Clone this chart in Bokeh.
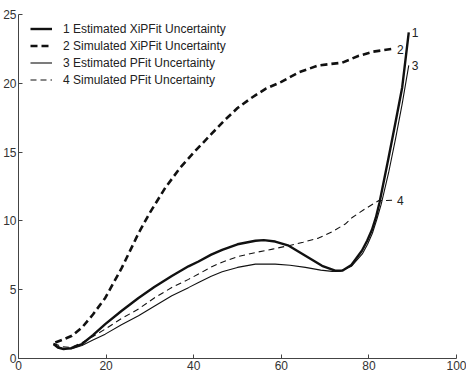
from bokeh.plotting import figure
from bokeh.models import Range1d, Legend, LegendItem, FixedTicker
from bokeh.embed import file_html
from bokeh.resources import INLINE
from bokeh.core.properties import value

# ---- data ----
x1 = [8, 9, 10.3, 12, 14.5, 17, 19.8, 23.5, 27.4, 31, 35, 38.8, 41.1, 44, 46.5, 50, 54.1, 56, 58.6, 61.7, 65.5, 69.3, 72.3, 74, 76, 78.4, 79.6, 80.7, 81.6, 82.4, 84.5, 86.1, 87.6, 89.1]
y1 = [1.05, 0.8, 0.68, 0.75, 1.05, 1.7, 2.5, 3.45, 4.4, 5.2, 6.0, 6.7, 7.05, 7.55, 7.9, 8.3, 8.56, 8.6, 8.5, 8.2, 7.47, 6.74, 6.38, 6.4, 6.8, 7.83, 8.56, 9.35, 10.25, 11.3, 14.6, 17.2, 19.7, 23.7]

x2 = [8.4, 10, 12.2, 14.5, 17, 19.8, 23.6, 27.4, 30, 33.5, 37, 40.4, 44, 47, 50, 53, 56.4, 60, 64, 68.5, 73.9, 77.7, 81, 85.3]
y2 = [1.16, 1.35, 1.65, 2.25, 3.2, 4.4, 6.6, 9.1, 10.6, 12.4, 13.9, 15.1, 16.3, 17.3, 18.2, 18.9, 19.6, 20.1, 20.8, 21.3, 21.5, 22.0, 22.3, 22.5]

x3 = [8, 10, 12, 14.5, 17, 19.8, 23.5, 27.4, 31, 35, 38.8, 41.1, 44, 46.5, 50, 54.1, 58.6, 62, 65.5, 69, 71.6, 73.5, 76, 78.5, 79.7, 80.8, 81.8, 82.8, 84.5, 86.1, 87.6, 89.1]
y3 = [1.0, 0.75, 0.7, 0.95, 1.35, 1.77, 2.45, 3.1, 3.8, 4.56, 5.15, 5.53, 5.98, 6.3, 6.62, 6.86, 6.86, 6.78, 6.62, 6.42, 6.33, 6.35, 6.7, 7.6, 8.3, 9.1, 10.1, 11.2, 13.5, 16.0, 18.5, 21.3]

x4 = [8, 10, 12, 14.5, 17, 19.8, 23.5, 27.4, 31, 35, 38.8, 41.1, 44, 46.5, 50, 54.1, 58, 61.7, 65, 68.5, 71.5, 74.6, 76.2, 79, 82.2, 85.3]
y4 = [1.1, 0.85, 0.8, 1.15, 1.6, 2.14, 2.9, 3.6, 4.4, 5.16, 5.75, 6.14, 6.65, 7.0, 7.4, 7.7, 7.95, 8.2, 8.45, 8.75, 9.2, 9.77, 10.25, 10.85, 11.47, 11.5]

names = ["1 Estimated XiPFit Uncertainty", "2 Simulated XiPFit Uncertainty",
         "3 Estimated PFit Uncertainty", "4 Simulated PFit Uncertainty"]
end_tags = ["1", "2", "3", "4"]

x_ticks = [0, 20, 40, 60, 80, 100]
y_ticks = [0, 5, 10, 15, 20, 25]

FONT = "Liberation Sans"

p = figure(frame_width=438, frame_height=344, output_backend="svg", toolbar_location=None,
           x_range=Range1d(0, 100), y_range=Range1d(0, 25),
           min_border_left=0, min_border_right=10, min_border_top=14, min_border_bottom=0)
p.outline_line_color = None
p.xgrid.visible = False
p.ygrid.visible = False
p.background_fill_color = "white"
p.border_fill_color = "white"

for ax in (p.xaxis[0], p.yaxis[0]):
    ax.axis_line_color = "#444444"
    ax.major_tick_line_color = "#444444"
    ax.major_tick_in = 4
    ax.major_tick_out = 0
    ax.minor_tick_in = 0
    ax.minor_tick_out = 0
    ax.minor_tick_line_color = None
    ax.major_label_text_font = FONT
    ax.major_label_text_font_size = "12px"
    ax.major_label_text_color = "#333333"
    ax.major_label_standoff = 2
p.xaxis.ticker = FixedTicker(ticks=x_ticks)
p.yaxis.ticker = FixedTicker(ticks=y_ticks)

styles = [
    dict(line_width=2.4, line_dash="solid"),
    dict(line_width=2.6, line_dash="7 4"),
    dict(line_width=1.1, line_dash="solid"),
    dict(line_width=1.1, line_dash="6 4"),
]
series = [(x1, y1), (x2, y2), (x3, y3), (x4, y4)]
renderers = []
for (xs, ys), st in zip(series, styles):
    r = p.line(xs, ys, line_color="#111111", line_join="round", **st)
    renderers.append(r)

# end-of-curve tags
offsets = [(3, 0), (5, 1), (3, 0), (5, 0)]
for (xs, ys), tag, (dx, dy) in zip(series, end_tags, offsets):
    p.text(x=[xs[-1]], y=[ys[-1]], text=[tag], x_offset=dx, y_offset=dy,
           text_font=value(FONT), text_font_size="12px", text_color="#222222",
           text_baseline="middle", text_align="left")

legend = Legend(items=[LegendItem(label=n, renderers=[r]) for n, r in zip(names, renderers)],
                location=(12, 270))
legend.border_line_color = None
legend.background_fill_alpha = 0
legend.label_text_font = FONT
legend.label_text_font_size = "12px"
legend.label_text_color = "#222222"
legend.glyph_width = 22
legend.glyph_height = 17
legend.label_height = 17
legend.label_standoff = 11
legend.spacing = 0
legend.padding = 0
legend.margin = 0
p.add_layout(legend, "center")

open("out.html", "w").write(file_html(p, INLINE))
